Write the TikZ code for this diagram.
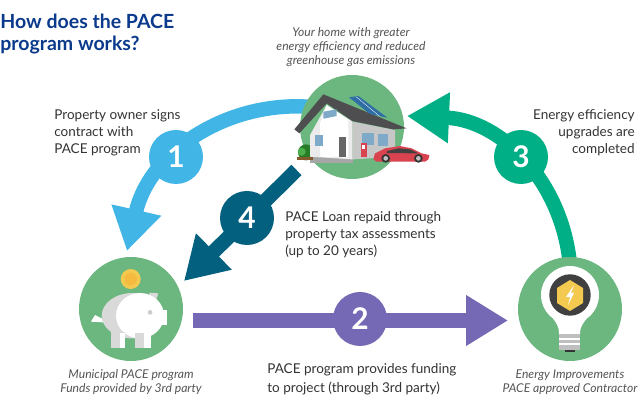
\documentclass[tikz,border=0pt]{standalone}
\usepackage{fontspec}
\setmainfont{Lato}
\usetikzlibrary{arrows.meta,backgrounds}
\definecolor{titleblue}{HTML}{0B3A8C}
\definecolor{onecol}{HTML}{41B6E6}
\definecolor{twocol}{HTML}{7568B5}
\definecolor{threecol}{HTML}{00AF86}
\definecolor{fourcol}{HTML}{04607F}
\definecolor{spotcol}{HTML}{6CB680}
\definecolor{inktext}{HTML}{333333}
\definecolor{softtext}{HTML}{555555}
\definecolor{coincol}{HTML}{F3C94F}
\definecolor{roofcol}{HTML}{4E4E50}
\definecolor{glasscol}{HTML}{7FA9C9}
\definecolor{panelcol}{HTML}{2F6EA5}
\definecolor{carcol}{HTML}{D8434F}
\tikzset{
  spot/.style={circle,fill=spotcol,minimum size=20.8mm,inner sep=0pt},
  badge/.style={circle,minimum size=10.8mm,inner sep=0pt,text=white,font=\fontsize{17}{17}\selectfont\bfseries},
  band/.style={line width=2.9mm,-{Triangle[length=8.4mm,width=9.6mm]}},
  steptext/.style={text=inktext,font=\fontsize{7.7}{9.7}\selectfont,inner sep=0pt},
  sidetext/.style={text=softtext,font=\fontsize{6.9}{8}\selectfont\itshape,inner sep=0pt,align=center},
}
\begin{document}
\begin{tikzpicture}[x=0.2mm,y=-0.2mm]
\useasboundingbox (0,0) rectangle (640,405);
% circles
\node[spot] (home) at (352,127) {};
\node[spot] (piggy) at (131,309) {};
\node[spot] (bulb) at (570,309) {};
% arrows
\coordinate (onestart) at (312,107);
\coordinate (oneend) at (127,251);
\coordinate (twostart) at (193,320.5);
\coordinate (twoend) at (508,320.5);
\coordinate (threestart) at (570,265);
\coordinate (threeend) at (407,116);
\coordinate (fourstart) at (296.5,170);
\coordinate (fourend) at (184,281);
\begin{pgfonlayer}{background}
\fill[white] (0,0) rectangle (640,405);
\draw[onecol,band] (onestart) .. controls (230,100) and (150,150) .. (oneend);
\draw[threecol,band] (threestart) .. controls (562,180) and (500,120) .. (threeend);
\end{pgfonlayer}
\draw[twocol,band] (twostart) -- (twoend);
\draw[fourcol,band] (fourstart) -- (fourend);
% numbers
\node[badge,fill=onecol] (one) at (176,157) {1};
\node[badge,fill=twocol] (two) at (360,319) {2};
\node[badge,fill=threecol] (three) at (521,157) {3};
\node[badge,fill=fourcol] (four) at (247,218) {4};
% house
\begin{scope}[shift={(270,40)},x=0.0667mm,y=-0.0667mm]
\fill[black!35] (120,350) rectangle (250,368);
\fill[green!40!black!85] (108,337) circle (24);
\fill[green!55!black!70] (95,335) circle (12);
\fill[brown!70!black] (80,352) rectangle (130,360);
\fill[black!8] (120,350) -- (120,285) -- (170,195) -- (248,245) -- (248,358) -- cycle;
\fill[black!22] (248,245) -- (375,270) -- (375,350) -- (248,358) -- cycle;
\fill[white] (150,350) -- (150,250) -- (170,195) -- (235,240) -- (235,352) -- cycle;
\fill[roofcol] (160,163) -- (410,265) -- (370,268) -- (247,243) -- (170,190) -- (88,280) -- (73,268) -- cycle;
\fill[panelcol] (237,172) -- (265,168) -- (352,233) -- (300,222) -- cycle;
\draw[white,line width=0.2pt] (258,170) -- (328,228);
\fill[glasscol] (160,215) -- (200,208) -- (200,228) -- (160,236) -- cycle;
\fill[glasscol] (135,285) rectangle (160,318);
\fill[black!60] (207,290) rectangle (228,350);
\fill[glasscol] (275,278) rectangle (313,315);
\fill[glasscol] (325,283) rectangle (355,318);
\fill[carcol] (272,310) rectangle (290,352);
\fill[white] (276,316) rectangle (286,328);
% car
\fill[carcol] (310,358) -- (315,340) -- (345,325) -- (390,318) -- (425,325) -- (455,340) -- (478,345) -- (475,358) -- (465,365) -- (320,365) -- cycle;
\fill[black!75] (352,333) -- (385,325) -- (420,328) -- (445,340) -- (350,339) -- cycle;
\foreach \wheelx in {347,445} {
  \fill[black!80] (\wheelx,355) circle (13);
  \fill[black!25] (\wheelx,355) circle (7);
}
\end{scope}
% pig
\begin{scope}[shift={(60,250)},x=0.0667mm,y=-0.0667mm]
\fill[coincol] (212,87) circle (30);
\fill[coincol!80!orange] (212,87) circle (19);
\fill[black!25] (228,158) -- (240,138) -- (262,130) -- (265,160) -- cycle;
\fill[black!15] (268,128) -- (295,130) -- (285,160) -- (268,160) -- cycle;
\fill[white] (93,215) -- (105,195) -- (125,205) -- (130,217) -- cycle;
\fill[black!15] (217,197) ellipse (92 and 68);
\fill[white] (240,197) ellipse (72 and 68);
\fill[black!15] (152,245) rectangle (195,295);
\fill[white] (180,250) rectangle (195,295);
\fill[black!15] (225,250) rectangle (272,295);
\fill[white] (252,250) rectangle (272,295);
\fill[white] (290,180) rectangle (320,225);
\fill[black!20] (270,187) circle (7);
\end{scope}
% bulb
\fill[white] (570,295) circle (29);
\fill[white] (544,307) .. controls (557,323) and (559,326) .. (559,334) -- (580,334) .. controls (580,326) and (583,323) .. (596,307) -- cycle;
\fill[black!25] (559,334) rectangle (580,350);
\fill[white] (559,338) rectangle (580,340);
\fill[white] (559,343) rectangle (580,345);
\fill[black!80] (565,350) rectangle (575,352);
\fill[black!75] (570,295) circle (20.7);
\fill[coincol] (570,280) -- (583,288) -- (583,303) -- (570,311) -- (557,303) -- (557,288) -- cycle;
\fill[white] (574,285) -- (566,297) -- (570,297) -- (568,305) -- (574,293) -- (571,293) -- cycle;
% texts
\node[anchor=north west,inner sep=0pt,text=titleblue,font=\fontsize{11.1}{12.5}\selectfont\bfseries,align=left] (title) at (0,14) {How does the PACE\\program works?};
\node[sidetext] (homelabel) at (351,47) {Your home with greater\\energy efficiency and reduced\\greenhouse gas emissions};
\node[steptext,anchor=north west,align=left] (onelabel) at (54,109) {Property owner signs\\contract with\\PACE program};
\node[steptext,anchor=north east,align=right] (threelabel) at (635,109) {Energy efficiency\\upgrades are\\completed};
\node[steptext,anchor=north west,align=left] (fourlabel) at (285,211) {PACE Loan repaid through\\property tax assessments\\(up to 20 years)};
\node[steptext,anchor=north west,align=left] (twolabel) at (267,363) {PACE program provides funding\\[1.1pt]to project (through 3rd party)};
\node[sidetext] (piggylabel) at (131,382) {Municipal PACE program\\Funds provided by 3rd party};
\node[sidetext] (bulblabel) at (570,382) {Energy Improvements\\PACE approved Contractor};
\end{tikzpicture}
\end{document}
